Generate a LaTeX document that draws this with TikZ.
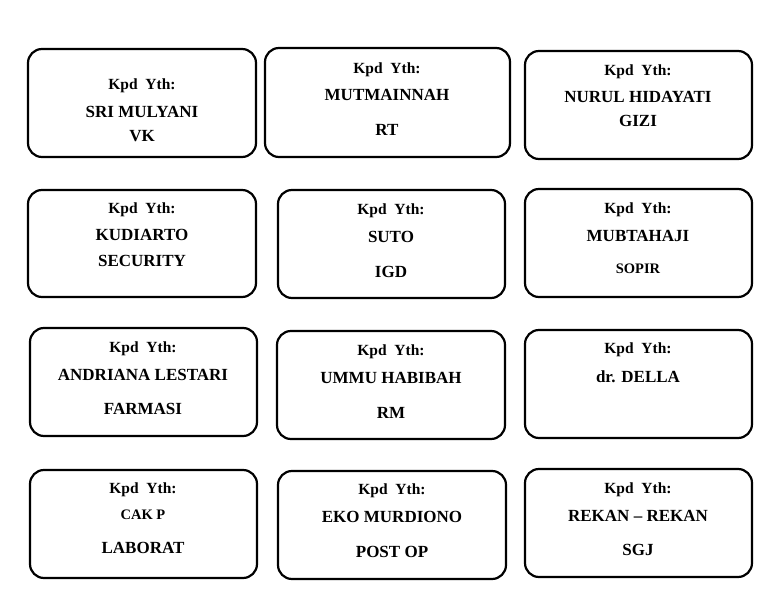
\documentclass[tikz,border=0pt]{standalone}
\usepackage{fontspec}
\setmainfont{Liberation Serif}
\begin{document}
\begin{tikzpicture}[x=1pt,y=-1pt,
  card/.style={draw,line width=2.2pt,rounded corners=14pt},
  kpd/.style={font=\bfseries\fontsize{15.5}{18}\selectfont,inner sep=0pt},
  nm/.style={font=\bfseries\fontsize{17}{20}\selectfont,inner sep=0pt},
  sm/.style={font=\bfseries\fontsize{14.5}{17}\selectfont,inner sep=0pt}]
\useasboundingbox (0,0) rectangle (768,609);
\newcommand{\card}[5]{\draw[card] (#1,#2) rectangle (#3,#4); \node (#5) at ({(#1+#3)/2},#2) {};}
\card{28}{49}{256}{157}{b1}
\card{265}{48}{510}{157}{b2}
\card{525}{51}{752}{159}{b3}
\card{28}{190}{256}{297}{b4}
\card{278}{190}{505}{298}{b5}
\card{525}{189}{752}{297}{b6}
\card{30}{328}{257}{436}{b7}
\card{277}{331}{505}{439}{b8}
\card{525}{330}{752}{438}{b9}
\card{30}{470}{257}{578}{b10}
\card{278}{471}{506}{579}{b11}
\card{525}{469}{752}{577}{b12}
% row 1
\node[kpd] (k1) at (142,86) {Kpd\ \ Yth:};
\node[nm] (n1a) at (142,112) {SRI MULYANI};
\node[nm] (n1b) at (142,136) {VK};
\node[kpd] (k2) at (387,70) {Kpd\ \ Yth:};
\node[nm] (n2a) at (387,95) {MUTMAINNAH};
\node[nm] (n2b) at (387,130) {RT};
\node[kpd] (k3) at (638,72) {Kpd\ \ Yth:};
\node[nm] (n3a) at (638,97) {NURUL HIDAYATI};
\node[nm] (n3b) at (638,121) {GIZI};
% row 2
\node[kpd] (k4) at (142,210) {Kpd\ \ Yth:};
\node[nm] (n4a) at (142,235) {KUDIARTO};
\node[nm] (n4b) at (142,261) {SECURITY};
\node[kpd] (k5) at (391,211) {Kpd\ \ Yth:};
\node[nm] (n5a) at (391,237) {SUTO};
\node[nm] (n5b) at (391,272) {IGD};
\node[kpd] (k6) at (638,210) {Kpd\ \ Yth:};
\node[nm] (n6a) at (638,236) {MUBTAHAJI};
\node[sm] (n6b) at (638,269) {SOPIR};
% row 3
\node[kpd] (k7) at (143,349) {Kpd\ \ Yth:};
\node[nm] (n7a) at (143,375) {ANDRIANA LESTARI};
\node[nm] (n7b) at (143,409) {FARMASI};
\node[kpd] (k8) at (391,352) {Kpd\ \ Yth:};
\node[nm] (n8a) at (391,378) {UMMU HABIBAH};
\node[nm] (n8b) at (391,413) {RM};
\node[kpd] (k9) at (638,350) {Kpd\ \ Yth:};
\node[nm] (n9a) at (638,377) {dr. DELLA};
% row 4
\node[kpd] (k10) at (143,490) {Kpd\ \ Yth:};
\node[sm] (n10a) at (143,515) {CAK P};
\node[nm] (n10b) at (143,548) {LABORAT};
\node[kpd] (k11) at (392,491) {Kpd\ \ Yth:};
\node[nm] (n11a) at (392,517) {EKO MURDIONO};
\node[nm] (n11b) at (392,552) {POST OP};
\node[kpd] (k12) at (638,490) {Kpd\ \ Yth:};
\node[nm] (n12a) at (638,516) {REKAN – REKAN};
\node[nm] (n12b) at (638,550) {SGJ};
\end{tikzpicture}
\end{document}
